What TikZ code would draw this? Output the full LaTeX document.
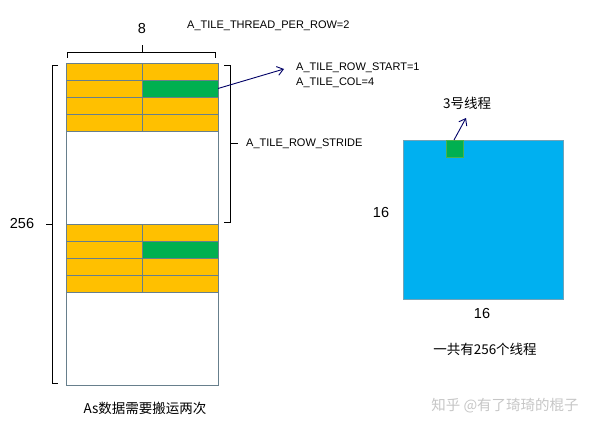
\documentclass[tikz,border=0pt]{standalone}
\usepackage{fontspec}
\usetikzlibrary{arrows.meta}
\setmainfont{Liberation Sans}
\newfontfamily\cjk{Noto Sans CJK SC}
\begin{document}
\begin{tikzpicture}[x=1pt,y=-1pt,
  cell/.style={draw=gray!60!cyan!70!black,line width=0.9pt},
  brk/.style={line width=0.9pt,black},
  lab/.style={font=\fontsize{11}{13}\selectfont,anchor=west,inner sep=0pt},
  big/.style={font=\fontsize{14.5}{17}\selectfont,inner sep=0pt},
  cj/.style={font=\cjk\fontsize{13.5}{16}\selectfont,inner sep=0pt},
  arr/.style={-{Straight Barb[length=6pt,width=9pt]},draw=blue!40!black,line width=0.9pt}]
\useasboundingbox (0,0) rectangle (600,428);
\definecolor{og}{RGB}{255,192,0}
\definecolor{gr}{RGB}{0,176,80}
\definecolor{bl}{RGB}{0,176,240}
\foreach \y in {63,224}{
  \foreach \r in {0,1,2,3}{
    \draw[cell,fill=og] (66,\y+17*\r) rectangle (142,\y+17*\r+17);
    \draw[cell,fill=og] (142,\y+17*\r) rectangle (218,\y+17*\r+17);
  }
  \draw[cell,fill=gr] (142,\y+17) rectangle (218,\y+34);
}
\draw[cell,fill=white] (66,131) rectangle (218,224);
\draw[cell,fill=white] (66,292) rectangle (218,385);
% top brace
\draw[brk] (67,58) -- (67,52) -- (215,52) -- (215,58);
\draw[brk] (142,52) -- (142,45);
\node[big] (n8) at (142,29) {8};
\node[lab] (tpr) at (187,26) {A\_TILE\_THREAD\_PER\_ROW=2};
% left bracket
\draw[brk] (58,65) -- (52,65) -- (52,383) -- (58,383);
\draw[brk] (52,224) -- (46,224);
\node[big] (n256) at (22,224) {256};
% right bracket
\draw[brk] (224,65) -- (230,65) -- (230,222) -- (224,222);
\draw[brk] (230,143) -- (238,143);
\node[lab] (rs) at (246,144) {A\_TILE\_ROW\_STRIDE};
\node[lab] (st) at (296,68) {A\_TILE\_ROW\_START=1};
\node[lab] (col) at (296,83) {A\_TILE\_COL=4};
\coordinate (ae) at (284,69);
\draw[arr] (218,88.5) -- (ae);
% right square
\draw[draw=gray!60!cyan,fill=bl,line width=0.9pt] (403,140) rectangle (563,299);
\draw[draw=gray!60!green,fill=gr,line width=0.9pt] (446,140) rectangle (463,157);
\coordinate (t3) at (466,118);
\draw[arr] (454,140) -- (t3);
\node[cj] (l3) at (467,103) {3号线程};
\node[big] (l16a) at (381,213) {16};
\node[big] (l16b) at (482,314) {16};
\node[cj] (tot) at (485,349) {一共有256个线程};
\node[cj] (cap) at (145,408) {As数据需要搬运两次};
\node[font=\cjk\fontsize{14.5}{17}\selectfont,inner sep=0pt,text=gray!45] (wm) at (505,406) {知乎 @有了琦琦的棍子};
\end{tikzpicture}
\end{document}
